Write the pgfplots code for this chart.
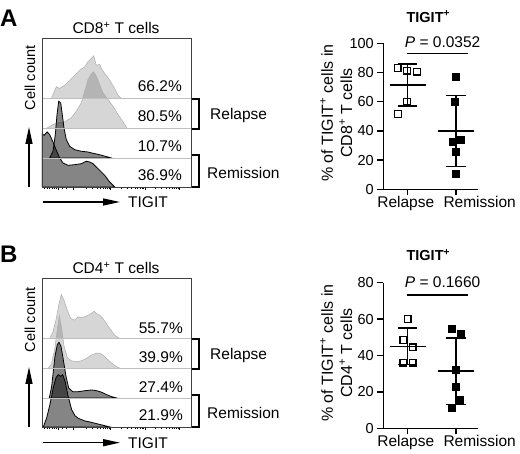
\documentclass[border=0pt]{standalone}
\usepackage{fontspec}
\setmainfont{Liberation Sans}
\usepackage{pgfplots}
\pgfplotsset{compat=1.18}
\usetikzlibrary{arrows.meta}

\tikzset{sepline/.style={black!25, line width=0.8pt}}
\pgfplotsset{
  histo/.style={
    anchor=south west, scale only axis, width=149pt, height=149pt,
    xmin=0, xmax=149, ymin=0, ymax=149,
    axis on top, axis line style={black!75, line width=0.8pt},
    ytick=\empty, xtick pos=bottom,
    xtick={16.7,31,68.7,103.2,137.7},
    minor xtick={2,5.3,7.7,10,12,14.3,20,24,44.6,50.7,55,58.3,61,63.4,65.4,67.2,
      79.1,85.2,89.5,92.8,95.5,97.9,99.9,101.7,113.6,119.7,124,127.3,130,132.4,134.4,136.2},
    xticklabels={}, tick align=outside,
    major tick length=3pt, minor tick length=2pt,
    every tick/.style={black, line width=0.6pt},
  },
  light/.style={draw=black!32, fill=black, fill opacity=0.16, line width=0.5pt},
  dark/.style={draw=black, fill=black, fill opacity=0.48, line width=0.8pt},
  dots/.style={
    anchor=south west, scale only axis, width=95pt,
    xmin=0.495, xmax=2.462, ymin=0,
    axis lines*=left, axis line style={line width=1.3pt},
    xtick={1,2}, xticklabels={},
    tick align=outside, major tick length=6pt,
    every tick/.style={black, line width=1.3pt},
    /pgf/number format/assume math mode=true,
    yticklabel style={font=\fontsize{14.5}{17}\selectfont},
    clip=false,
  },
  opensq/.style={only marks, mark=square, mark size=3.4pt,
    mark options={line width=1.2pt, fill=white}},
  fillsq/.style={only marks, mark=square*, mark size=3.4pt,
    mark options={fill=black}},
  bar/.style={black, line width=1.5pt},
}

\begin{document}
\begin{tikzpicture}[x=1pt, y=1pt,
  lbl/.style={font=\fontsize{15.5}{18}\selectfont, inner sep=0pt},
  panel/.style={font=\fontsize{24}{28}\selectfont\bfseries, inner sep=0pt},
  ttl/.style={font=\fontsize{14.5}{17}\selectfont\bfseries, inner sep=0pt},
  arr/.style={line width=1.4pt, -{Triangle[length=17pt,width=7pt]}}]
\path[use as bounding box] (0pt,0pt) rectangle (520pt,454pt);

% ---------------- panel A: histograms ----------------
\node[panel, anchor=base west] at (0,427) {A};
\node[lbl] at (116,426) {CD8\textsuperscript{+} T cells};
\begin{axis}[histo, at={(42pt,267pt)}]
  \addplot[light] coordinates {(9.3,88.5) (14.3,100.2) (17.7,98.5) (22.7,101.8) (27.7,106.8)
    (32.7,111.8) (37.7,116.8) (42.7,120.2) (46,125.2) (49.3,128.5) (51.7,131.2) (54.3,121.8)
    (57.7,122.5) (59.3,118.5) (62.7,113.5) (67.7,106.8) (72.7,98.5) (76,91.8) (79.3,88.5)} -- cycle;
  \addplot[light] coordinates {(4.3,58.5) (11,62.5) (16,64.2) (22.7,65.2) (29.3,69.2) (34.3,75.8)
    (39.3,84.2) (42.7,95.8) (46,107.5) (49.3,113.2) (51.7,115.2) (54.3,110.8) (57.7,102.5)
    (61,94.2) (66,87.5) (71,80.8) (76,72.5) (81,65.2) (85.3,58.5)} -- cycle;
  \addplot[dark] coordinates {(7.7,29) (11,35.7) (13.3,52.3) (15,72.3) (16.7,85.7) (18.7,84)
    (20.3,72.3) (22,59) (24.3,47.3) (27.7,40.7) (32.7,37.3) (39.3,35.7) (46,35) (51,33.7)
    (56,32.7) (61,31.3) (66,30) (69.3,29)} -- cycle;
  \addplot[dark] coordinates {(0,0) (0,53.3) (2,51.7) (5.3,55) (7.7,52.3) (11,45) (14.3,36.7)
    (17.7,29) (21,24) (26,21.7) (32.7,22.3) (39.3,23.3) (44.3,25.7) (47.7,25) (51,23.3)
    (54.3,20) (57.7,16.7) (62.7,11.7) (67.7,5) (72.7,0)} -- cycle;
  \draw[sepline] (axis cs:0,29) -- (axis cs:149,29);
  \draw[sepline] (axis cs:0,58.5) -- (axis cs:149,58.5);
  \draw[sepline] (axis cs:0,88.5) -- (axis cs:149,88.5);
\end{axis}
\node[lbl, anchor=east] at (182,368) {66.2\%};
\node[lbl, anchor=east] at (182,338) {80.5\%};
\node[lbl, anchor=east] at (182,308) {10.7\%};
\node[lbl, anchor=east] at (182,279) {36.9\%};
\draw[line width=1.3pt] (192,355) -- (199,355) -- (199,325) -- (192,325);
\draw[line width=1.3pt] (192,299) -- (199,299) -- (199,267) -- (192,267);
\node[lbl, anchor=base west] at (210,334.2) {Relapse};
\node[lbl, anchor=base west] at (207,275.2) {Remission};
\draw[arr] (29,267) -- (29,327);
\node[lbl, rotate=90, font=\fontsize{14.5}{17}\selectfont] at (30,376) {Cell count};
\draw[arr] (43,252) -- (120,252);
\node[lbl, anchor=west] at (128,252) {TIGIT};

% ---------------- panel A: dot plot ----------------
\node[ttl] at (428.3,437.3) {TIGIT\textsuperscript{+}};
\node[lbl] at (442.6,412.3) {\textit{P} = 0.0352};
\draw[line width=1.3pt] (406.7,400.7) -- (468.3,400.7);
\node[lbl, rotate=90, align=center, font=\fontsize{16}{19.3}\selectfont] at (336.3,341)
  {\% of TIGIT\textsuperscript{+} cells in\\CD8\textsuperscript{+} T cells};
\begin{axis}[dots, at={(383.3pt,264.7pt)}, height=146pt, ymax=100, ytick={0,20,...,100}]
  \addplot[opensq] coordinates {(0.79,82.9) (0.99,81.3) (1.19,80.6) (0.99,60) (0.80,51.6)};
  \addplot[fillsq] coordinates {(1.99,77.2) (1.98,60) (1.92,32.6) (2.09,33.8) (1.99,25.8) (1.99,10.5)};
  % mean and SD
  \addplot[bar] coordinates {(0.63,71.3) (1.37,71.3)};
  \addplot[bar] coordinates {(1,56.9) (1,85.7)};
  \addplot[bar] coordinates {(0.8,85.7) (1.2,85.7)};
  \addplot[bar] coordinates {(0.8,56.9) (1.2,56.9)};
  \addplot[bar] coordinates {(1.63,40) (2.37,40)};
  \addplot[bar] coordinates {(2,15.7) (2,64.3)};
  \addplot[bar] coordinates {(1.8,64.3) (2.2,64.3)};
  \addplot[bar] coordinates {(1.8,15.7) (2.2,15.7)};
\end{axis}
\node[lbl, anchor=base] at (405.8,246.7) {Relapse};
\node[lbl, anchor=base west] at (443.3,246.7) {Remission};

% ---------------- panel B: histograms ----------------
\node[panel, anchor=base west] at (0,191) {B};
\node[lbl] at (116,186) {CD4\textsuperscript{+} T cells};
\begin{axis}[histo, at={(42pt,27pt)}]
  \addplot[light] coordinates {(7.7,88.5) (11,95.2) (14.3,108.5) (16.7,121.8) (19.3,132.5)
    (22,126.8) (25.3,116.8) (28.7,108.5) (32.7,106.8) (36,110.2) (39.3,109.2) (42.7,110.2)
    (46,111.8) (49.3,113.5) (52,115.8) (54.3,113.5) (57.7,111.8) (61,108.5) (64.3,103.5)
    (67.7,98.5) (72.7,91.8) (77.7,88.5)} -- cycle;
  \addplot[light] coordinates {(6,58.5) (9.3,62.8) (12.7,77.8) (15.3,97.8) (17.3,111.2)
    (19.3,101.2) (22,81.2) (25.3,69.5) (29.3,66.2) (34.3,65.2) (39.3,66.2) (44.3,68.5)
    (49.3,71.8) (54.3,73.8) (57.7,73.8) (61,71.8) (66,67.2) (71,62.8) (76,59.5) (79.3,58.5)} -- cycle;
  \addplot[dark] coordinates {(7.3,29) (9.7,40.7) (11.3,55.7) (13,70.7) (15.3,82.3) (17,84.7)
    (19,80.7) (21.3,67.3) (24,50.7) (26.7,39) (30.7,35.3) (36.3,35.3) (43,36.3) (49.7,37)
    (54.7,36.3) (59.7,34.7) (64.7,32.3) (69.7,30.3) (74.7,29)} -- cycle;
  \addplot[dark] coordinates {(1.3,0) (4.7,9.3) (8,22.7) (11.3,39.3) (14,49.3) (16.3,52.3)
    (18.7,50.7) (20.7,52.3) (23,46) (26.3,30) (29.7,17.3) (33,11.3) (36.3,8.7) (39.7,7.3)
    (43,6) (48,5) (54.7,3.3) (61.3,1.7) (68,0)} -- cycle;
  \draw[sepline] (axis cs:0,29) -- (axis cs:149,29);
  \draw[sepline] (axis cs:0,58.5) -- (axis cs:149,58.5);
  \draw[sepline] (axis cs:0,88.5) -- (axis cs:149,88.5);
\end{axis}
\node[lbl, anchor=east] at (183,126) {55.7\%};
\node[lbl, anchor=east] at (183,97) {39.9\%};
\node[lbl, anchor=east] at (183,67) {27.4\%};
\node[lbl, anchor=east] at (183,39) {21.9\%};
\draw[line width=1.3pt] (192,115) -- (199,115) -- (199,85) -- (192,85);
\draw[line width=1.3pt] (192,59) -- (199,59) -- (199,27) -- (192,27);
\node[lbl, anchor=base west] at (210,94.2) {Relapse};
\node[lbl, anchor=base west] at (207,35.2) {Remission};
\draw[arr] (29,27) -- (29,87);
\node[lbl, rotate=90, font=\fontsize{14.5}{17}\selectfont] at (30,134) {Cell count};
\draw[arr] (43,11.3) -- (120,11.3);
\node[lbl, anchor=west] at (128,11.3) {TIGIT};

% ---------------- panel B: dot plot ----------------
\node[ttl] at (428.3,199) {TIGIT\textsuperscript{+}};
\node[lbl] at (442.6,172.3) {\textit{P} = 0.1660};
\draw[line width=1.3pt] (406.7,159) -- (468.3,159);
\node[lbl, rotate=90, align=center, font=\fontsize{16}{19.3}\selectfont] at (336.3,101)
  {\% of TIGIT\textsuperscript{+} cells in\\CD4\textsuperscript{+} T cells};
\begin{axis}[dots, at={(383.3pt,25.7pt)}, height=145.6pt, ymax=80, ytick={0,20,...,80}]
  \addplot[opensq] coordinates {(1.0,60) (0.91,48.5) (1.10,44.5) (0.91,36.1) (1.10,36.1)};
  \addplot[fillsq] coordinates {(1.91,54.6) (2.10,51.8) (2.0,32) (2.0,22.9) (2.08,15.6) (1.91,11.4)};
  \addplot[bar] coordinates {(0.63,45) (1.37,45)};
  \addplot[bar] coordinates {(1,35) (1,55)};
  \addplot[bar] coordinates {(0.8,55) (1.2,55)};
  \addplot[bar] coordinates {(0.8,35) (1.2,35)};
  \addplot[bar] coordinates {(1.63,31.4) (2.37,31.4)};
  \addplot[bar] coordinates {(2,13.1) (2,49.7)};
  \addplot[bar] coordinates {(1.8,49.7) (2.2,49.7)};
  \addplot[bar] coordinates {(1.8,13.1) (2.2,13.1)};
\end{axis}
\node[lbl, anchor=base] at (405.8,7.7) {Relapse};
\node[lbl, anchor=base west] at (443.3,7.7) {Remission};
\end{tikzpicture}
\end{document}
